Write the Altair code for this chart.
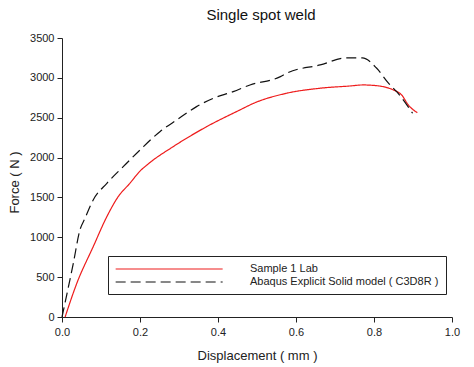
import altair as alt
import pandas as pd

# Sample 1 Lab (red solid)
lab_disp = [0.008, 0.038, 0.080, 0.115, 0.144, 0.174, 0.200, 0.221, 0.285, 0.371,
            0.456, 0.49, 0.576, 0.662, 0.738, 0.772, 0.80, 0.85, 0.871, 0.888, 0.911]
lab_force = [0, 423, 882, 1259, 1509, 1677, 1830, 1920, 2137, 2388,
             2597, 2678, 2807, 2870, 2898, 2911, 2905, 2848, 2785, 2660, 2563]

# Abaqus Explicit Solid model (black dashed)
fe_disp = [0.0, 0.029, 0.046, 0.059, 0.080, 0.115, 0.157, 0.2, 0.251, 0.294, 0.345,
           0.388, 0.439, 0.482, 0.56, 0.576, 0.662, 0.73, 0.77, 0.807, 0.836, 0.858, 0.899]
fe_force = [0, 674, 1092, 1238, 1468, 1677, 1886, 2095, 2325, 2472, 2639,
            2744, 2827, 2911, 3015, 3058, 3162, 3250, 3250, 3120, 2940, 2827, 2556]

series = ["Sample 1 Lab", "Abaqus Explicit Solid model ( C3D8R )"]
x_ticks = [0.0, 0.2, 0.4, 0.6, 0.8, 1.0]
y_ticks = [0, 500, 1000, 1500, 2000, 2500, 3000, 3500]

rows = []
for i, (d, f) in enumerate(zip(lab_disp, lab_force)):
    rows.append({"series": series[0], "order": i, "disp": d, "force": f})
for i, (d, f) in enumerate(zip(fe_disp, fe_force)):
    rows.append({"series": series[1], "order": i, "disp": d, "force": f})
df = pd.DataFrame(rows)

FONT = "Liberation Sans"

legend = alt.Legend(orient="none", legendX=46, legendY=218)

chart = alt.Chart(df).mark_line(strokeWidth=1.2, interpolate="monotone").encode(
    x=alt.X("disp:Q", title="Displacement ( mm )",
            scale=alt.Scale(domain=[0, 1.0], nice=False),
            axis=alt.Axis(values=x_ticks, format=".1f", grid=False, labelFlush=False,
                          titlePadding=12, labelPadding=4)),
    y=alt.Y("force:Q", title="Force ( N )",
            scale=alt.Scale(domain=[0, 3500], nice=False),
            axis=alt.Axis(values=y_ticks, format="d", grid=False, labelFlush=False,
                          titleX=-41, titleY=144, labelPadding=3)),
    color=alt.Color("series:N", title=None,
                    scale=alt.Scale(domain=series, range=["#ee1c1c", "#111111"]),
                    legend=legend),
    strokeDash=alt.StrokeDash("series:N", title=None,
                              scale=alt.Scale(domain=series, range=[[1, 0], [10, 5]]),
                              legend=legend),
    order="order:Q",
    detail="series:N",
).properties(
    width=390,
    height=279,
    title=alt.Title("Single spot weld", fontSize=15, font=FONT,
                    fontWeight="normal", offset=9, dx=4, color="#111"),
    autosize=alt.AutoSizeParams(type="none"),
    padding={"left": 54, "top": 30, "right": 10, "bottom": 50},
).configure_view(
    stroke=None
).configure_axis(
    domainColor="#222", tickColor="#222", tickSize=5,
    labelFont=FONT, labelFontSize=11, labelColor="#222",
    titleFont=FONT, titleFontSize=13, titleFontWeight="normal", titleColor="#222",
).configure_legend(
    symbolType="M-1,0H19", symbolSize=114.5, symbolStrokeWidth=1.2,
    labelFont=FONT, labelFontSize=11, labelColor="#222", labelLimit=400,
    labelOffset=123, padding=7, rowPadding=2,
    strokeColor="#222", fillColor="white",
)

chart.save("out.html", embed_options={"renderer": "svg", "actions": False})
